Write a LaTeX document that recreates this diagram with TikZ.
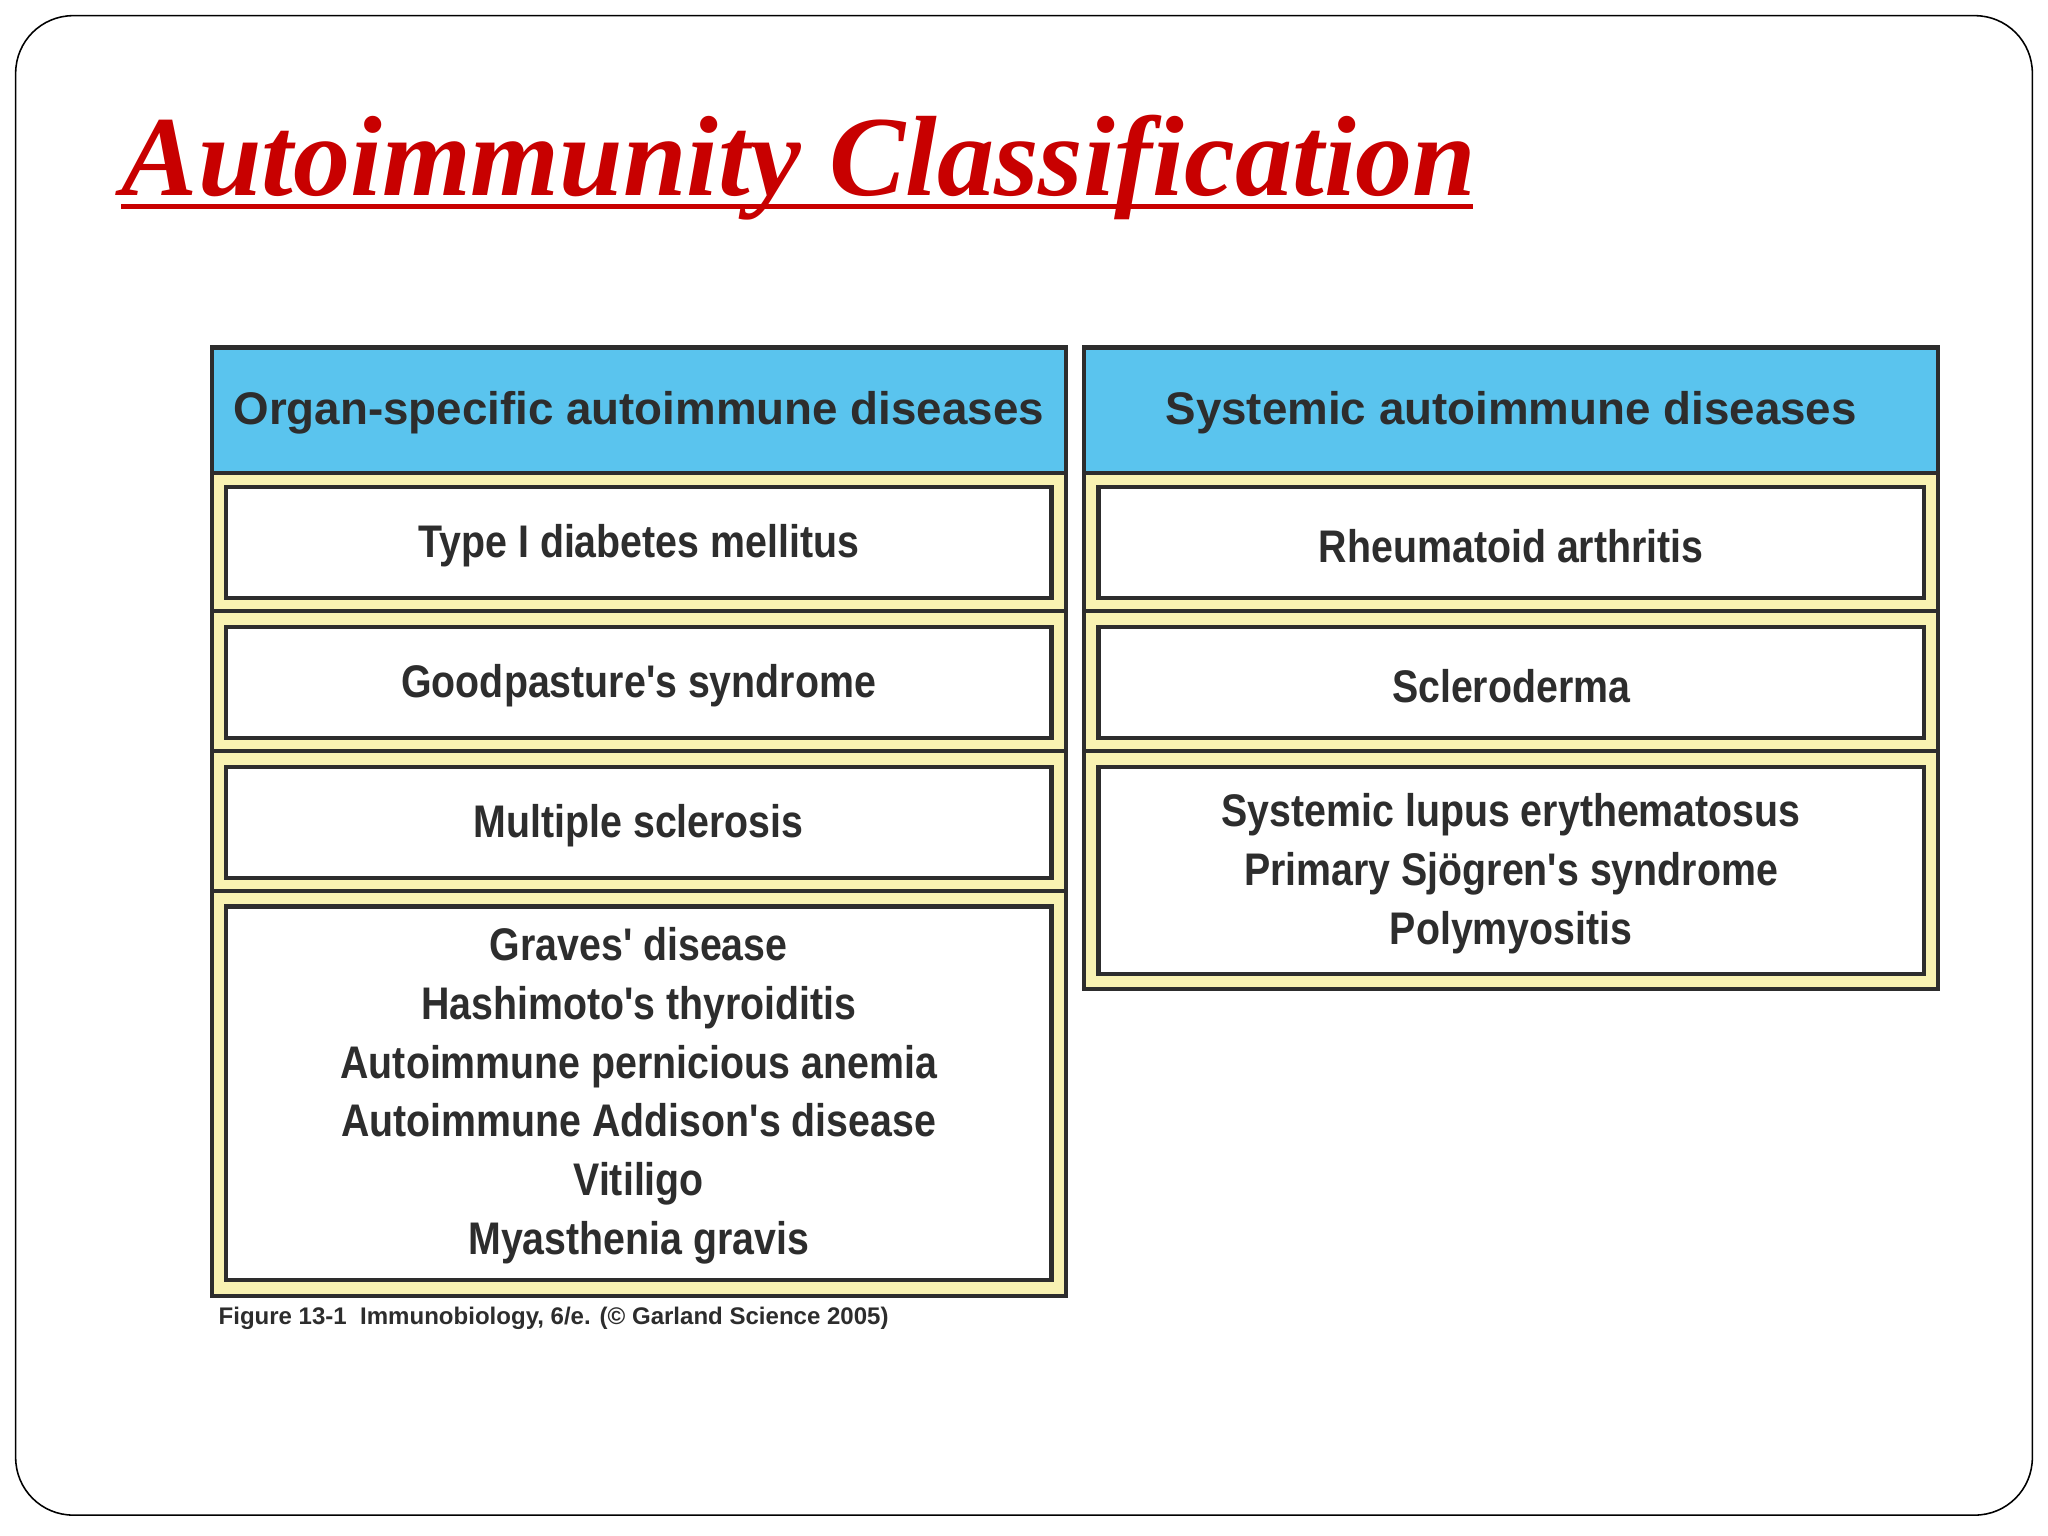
\documentclass[tikz,border=0pt]{standalone}
\usepackage{fontspec}
\setmainfont{Liberation Serif}
\newfontfamily\nar[FakeStretch=0.86]{Liberation Sans}
\newfontfamily\hf{Liberation Sans}
\definecolor{ttl}{RGB}{200,0,0}
\definecolor{hdr}{RGB}{90,196,238}
\definecolor{yel}{RGB}{248,242,178}
\definecolor{ln}{RGB}{45,45,45}
\tikzset{
  panel/.style={draw=ln,line width=1.6pt,fill=yel},
  head/.style={draw=ln,line width=1.6pt,fill=hdr},
  inner/.style={draw=ln,line width=1.6pt,fill=white},
  htxt/.style={font=\hf\bfseries\fontsize{17.5}{20}\selectfont,text=ln},
  itxt/.style={font=\nar\fontsize{17.5}{22.5}\selectfont\bfseries,text=ln,align=center},
}
\begin{document}
\begin{tikzpicture}[x=0.5pt,y=-0.5pt]
\useasboundingbox (0,0) rectangle (1568,1176);
\draw[line width=0.6pt,rounded corners=22pt,fill=white] (12,12) rectangle (1556,1160);
\node[anchor=base west,inner sep=0,text=ttl,font=\bfseries\itshape\fontsize{43.7}{46}\selectfont] (title) at (93,150) {Autoimmunity Classification};
\draw[ttl,line width=2pt] (93,158) -- (1128,158);
% left panel
\draw[panel] (162,266) rectangle (816,992);
\draw[head] (162,266) rectangle (816,362);
\node[htxt] (lh) at (489,316) {Organ-specific autoimmune diseases};
\foreach \b in {468,575,682}{\draw[ln,line width=1.6pt] (162,\b) -- (816,\b);}
\draw[inner] (173,373) rectangle (805,458);
\draw[inner] (173,480) rectangle (805,565);
\draw[inner] (173,587) rectangle (805,672);
\draw[inner] (173,694) rectangle (805,980);
\node[itxt] (l1) at (489,418) {Type I diabetes mellitus};
\node[itxt] (l2) at (489,525) {Goodpasture's syndrome};
\node[itxt] (l3) at (489,632) {Multiple sclerosis};
\node[itxt] (l4) at (489,839) {Graves' disease\\Hashimoto's thyroiditis\\Autoimmune pernicious anemia\\Autoimmune Addison's disease\\Vitiligo\\Myasthenia gravis};
% right panel
\draw[panel] (830,266) rectangle (1484,757);
\draw[head] (830,266) rectangle (1484,362);
\node[htxt] (rh) at (1157,316) {Systemic autoimmune diseases};
\foreach \b in {468,575}{\draw[ln,line width=1.6pt] (830,\b) -- (1484,\b);}
\draw[inner] (841,373) rectangle (1473,458);
\draw[inner] (841,480) rectangle (1473,565);
\draw[inner] (841,587) rectangle (1473,746);
\node[itxt] (r1) at (1157,418) {Rheumatoid arthritis};
\node[itxt] (r2) at (1157,525) {Scleroderma};
\node[itxt] (r3) at (1157,669) {Systemic lupus erythematosus\\Primary Sjögren's syndrome\\Polymyositis};
\node[anchor=west,inner sep=0,font=\hf\bfseries\fontsize{9.2}{11}\selectfont,text=ln] (cap) at (167,1009) {Figure 13-1 \ Immunobiology, 6/e. (© Garland Science 2005)};
\end{tikzpicture}
\end{document}
